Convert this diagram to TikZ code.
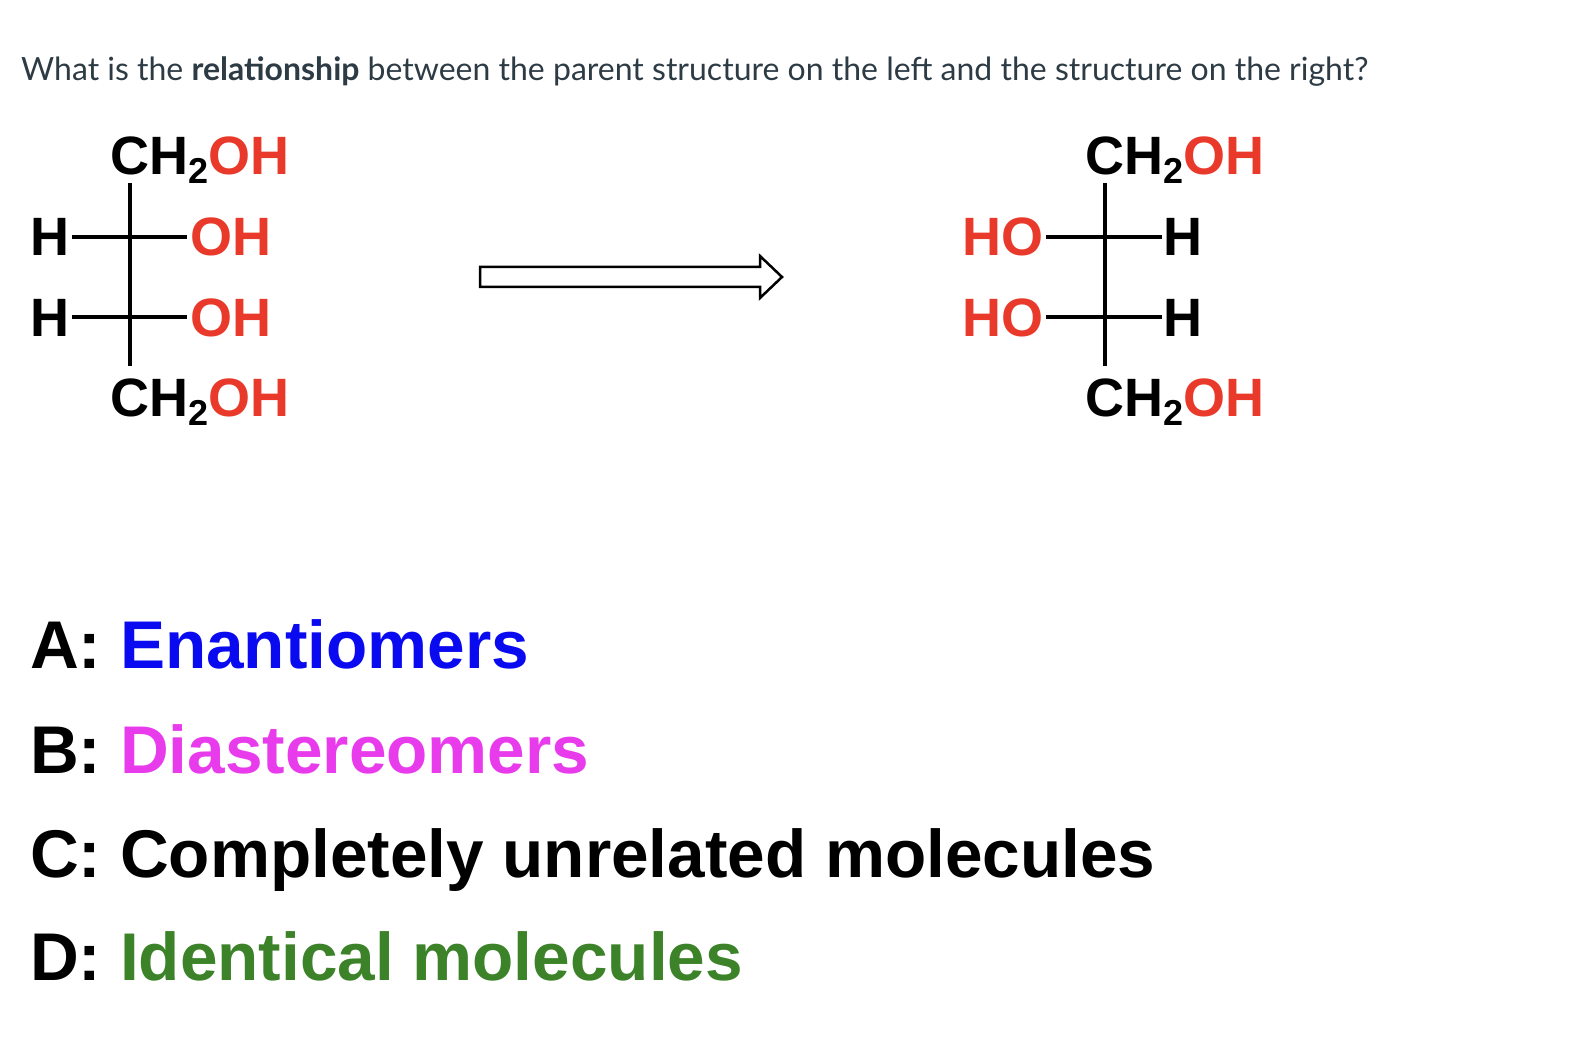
\documentclass[tikz,border=0pt]{standalone}
\usepackage{fontspec}
\setmainfont{Liberation Sans}
\newfontfamily\lato{Lato}
\definecolor{ored}{HTML}{E8392A}
\definecolor{oblue}{HTML}{0A0AF0}
\definecolor{omag}{HTML}{E83CEC}
\definecolor{ogreen}{HTML}{3C8228}
\definecolor{otitle}{HTML}{2D3B45}
\newcommand{\chtwo}{CH\raisebox{-9pt}{\fontsize{36}{36}\selectfont 2}\textcolor{ored}{OH}}
\begin{document}
\begin{tikzpicture}[x=1pt,y=-1pt,
  mol/.style={inner sep=0pt,anchor=base west,font=\fontsize{54}{54}\selectfont\bfseries},
  opt/.style={inner sep=0pt,anchor=base west,font=\fontsize{67.5}{67.5}\selectfont\bfseries},
  bond/.style={line width=3.5pt}]
\useasboundingbox (0,0) rectangle (1586,1064);
\node[inner sep=0pt,anchor=base west,text=otitle,font=\lato\fontsize{32}{32}\selectfont] (title) at (21,81) {What is the \textbf{relationship} between the parent structure on the left and the structure on the right?};
% left Fischer
\node[mol] (l1) at (110,175) {\chtwo};
\node[mol] (lh1) at (30,256) {H};
\node[mol,text=ored] (lo1) at (190,256) {OH};
\node[mol] (lh2) at (30,336) {H};
\node[mol,text=ored] (lo2) at (190,336) {OH};
\node[mol] (l4) at (110,416) {\chtwo};
\draw[bond] (130,183) -- (130,366);
\draw[bond] (lh1.base east) ++(3,-19) -- (187,237);
\draw[bond] (lh2.base east) ++(3,-19) -- (187,317);
% arrow
\coordinate (ar) at (782,277);
\draw[line width=2.5pt,line join=miter] (480,267) -- (760,267) -- (760,256) -- (ar) -- (760,298) -- (760,287) -- (480,287) -- cycle;
% right Fischer
\node[mol] (r1) at (1085,175) {\chtwo};
\node[mol,text=ored] (ro1) at (962,256) {HO};
\node[mol] (rh1) at (1163,256) {H};
\node[mol,text=ored] (ro2) at (962,336) {HO};
\node[mol] (rh2) at (1163,336) {H};
\node[mol] (r4) at (1085,416) {\chtwo};
\draw[bond] (1105,183) -- (1105,366);
\draw[bond] (ro1.base east) ++(3,-19) -- (1162,237);
\draw[bond] (ro2.base east) ++(3,-19) -- (1162,317);
% options
\node[opt] (oa) at (30,668) {A: \textcolor{oblue}{Enantiomers}};
\node[opt] (ob) at (30,773) {B: \textcolor{omag}{Diastereomers}};
\node[opt] (oc) at (30,877) {C: Completely unrelated molecules};
\node[opt] (od) at (30,980) {D: \textcolor{ogreen}{Identical molecules}};
\end{tikzpicture}
\end{document}
